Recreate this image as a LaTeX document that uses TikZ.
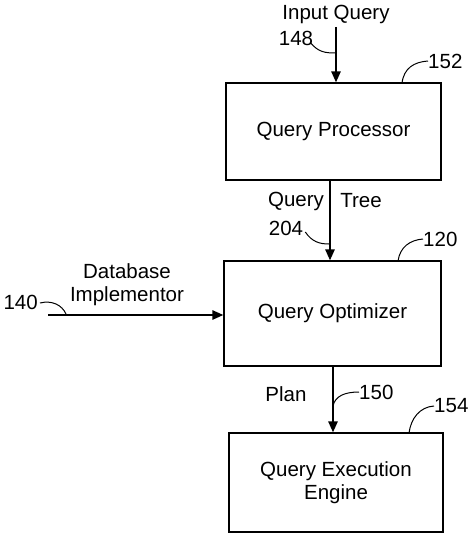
\documentclass[tikz,border=0pt]{standalone}
\usepackage{fontspec}
\setmainfont{Liberation Sans}
\usetikzlibrary{arrows.meta}
\begin{document}
\begin{tikzpicture}[x=1pt,y=-1pt,
  box/.style={draw, line width=1.4pt, inner sep=0pt, align=center, font=\fontsize{20.5}{23}\selectfont},
  lbl/.style={font=\fontsize{20.5}{23}\selectfont, inner sep=0pt, align=center},
  arr/.style={line width=1.4pt, -{Triangle[length=11pt,width=9.5pt]}},
  lead/.style={line width=1pt}]
\useasboundingbox (0,0) rectangle (474,543);
% boxes
\node[box, minimum width=215pt, minimum height=97pt] (qp) at (333.5,131.5) {Query Processor};
\node[box, minimum width=217pt, minimum height=105pt] (qo) at (332.5,313.5) {Query Optimizer};
\node[box, minimum width=214pt, minimum height=99pt] (qe) at (336,482.5) {Query Execution\\Engine};
% labels
\node[lbl] (inql) at (336,14) {Input Query};
\node[lbl] (n148) at (296,38) {148};
\node[lbl, anchor=west] (n152) at (428,61) {152};
\node[lbl] (qtl) at (296,201) {Query};
\node[lbl] (trl) at (361,201) {Tree};
\node[lbl] (n204) at (286,228) {204};
\node[lbl, anchor=west] (n120) at (423,239) {120};
\node[lbl] (dbl) at (127,285) {Database\\Implementor};
\node[lbl, anchor=east] (n140) at (38,302) {140};
\node[lbl] (plan) at (286,394) {Plan};
\node[lbl, anchor=west] (n150) at (359,392) {150};
\node[lbl, anchor=west] (n154) at (434,406) {154};
% arrow coordinates
\coordinate (c1) at (336,27);
\coordinate (c2) at (330,0);
\coordinate (c3) at (48,315);
\coordinate (c4) at (333,0);
\draw[arr] (c1) -- (c1 |- qp.north);
\draw[arr] (qp.south -| c2) -- (qo.north -| c2);
\draw[arr] (c3) -- (c3 -| qo.west);
\draw[arr] (qo.south -| c4) -- (qe.north -| c4);
% leaders
\draw[lead] (n148.south east) ++(-3,-3) .. controls (318,52) and (325,53) .. (335,53);
\draw[lead] (402,83) .. controls (404,68) and (414,62) .. (n152.west);
\draw[lead] (n204.east) ++(2,4) .. controls (312,242) and (320,244) .. (329,244);
\draw[lead] (398,261) .. controls (400,247) and (410,240) .. (n120.west);
\draw[lead] (n140.east) ++(2,1) .. controls (52,300) and (62,305) .. (66,314);
\draw[lead] (333,406) .. controls (335,396) and (345,392) .. (n150.west);
\draw[lead] (409,433) .. controls (411,418) and (420,407) .. (n154.west);
\end{tikzpicture}
\end{document}
